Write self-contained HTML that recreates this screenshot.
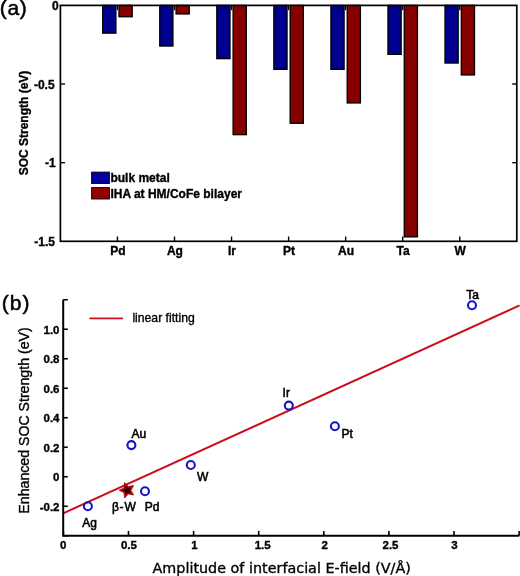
<!DOCTYPE html><html><head><meta charset="utf-8"><title>SOC strength figure</title><style>html,body{margin:0;padding:0;background:#fff;}svg{display:block}</style></head><body>
<svg width="520" height="576" viewBox="0 0 520 576">
<defs><filter id="soft" x="0" y="0" width="1" height="1"><feGaussianBlur stdDeviation="0.35"/></filter></defs>
<rect width="520" height="576" fill="#fff"/>
<g filter="url(#soft)">
<text x="-0.2" y="15.3" font-family="Liberation Sans, Arial, sans-serif" font-size="21" letter-spacing="0.6" stroke="#000" stroke-width="0.5">(a)</text>
<rect x="102.70" y="5.40" width="13.20" height="27.75" fill="#00008f" stroke="#000" stroke-width="1.3"/>
<rect x="119.00" y="5.40" width="13.20" height="11.35" fill="#860000" stroke="#000" stroke-width="1.3"/>
<rect x="159.75" y="5.40" width="13.20" height="40.65" fill="#00008f" stroke="#000" stroke-width="1.3"/>
<rect x="176.05" y="5.40" width="13.20" height="8.55" fill="#860000" stroke="#000" stroke-width="1.3"/>
<rect x="216.80" y="5.40" width="13.20" height="53.25" fill="#00008f" stroke="#000" stroke-width="1.3"/>
<rect x="233.10" y="5.40" width="13.20" height="129.25" fill="#860000" stroke="#000" stroke-width="1.3"/>
<rect x="273.85" y="5.40" width="13.20" height="63.95" fill="#00008f" stroke="#000" stroke-width="1.3"/>
<rect x="290.15" y="5.40" width="13.20" height="117.85" fill="#860000" stroke="#000" stroke-width="1.3"/>
<rect x="330.90" y="5.40" width="13.20" height="63.95" fill="#00008f" stroke="#000" stroke-width="1.3"/>
<rect x="347.20" y="5.40" width="13.20" height="97.55" fill="#860000" stroke="#000" stroke-width="1.3"/>
<rect x="387.95" y="5.40" width="13.20" height="48.95" fill="#00008f" stroke="#000" stroke-width="1.3"/>
<rect x="404.25" y="5.40" width="13.20" height="231.45" fill="#860000" stroke="#000" stroke-width="1.3"/>
<rect x="445.00" y="5.40" width="13.20" height="57.65" fill="#00008f" stroke="#000" stroke-width="1.3"/>
<rect x="461.30" y="5.40" width="13.20" height="69.55" fill="#860000" stroke="#000" stroke-width="1.3"/>
<rect x="60.40" y="5.40" width="456.40" height="235.90" fill="none" stroke="#000" stroke-width="1.7"/>
<g stroke="#000" stroke-width="1.4">
<line x1="60.40" y1="84.03" x2="65.00" y2="84.03"/>
<line x1="516.80" y1="84.03" x2="512.20" y2="84.03"/>
<line x1="60.40" y1="162.67" x2="65.00" y2="162.67"/>
<line x1="516.80" y1="162.67" x2="512.20" y2="162.67"/>
<line x1="117.45" y1="241.30" x2="117.45" y2="236.50"/>
<line x1="117.45" y1="5.40" x2="117.45" y2="10.20"/>
<line x1="174.50" y1="241.30" x2="174.50" y2="236.50"/>
<line x1="174.50" y1="5.40" x2="174.50" y2="10.20"/>
<line x1="231.55" y1="241.30" x2="231.55" y2="236.50"/>
<line x1="231.55" y1="5.40" x2="231.55" y2="10.20"/>
<line x1="288.60" y1="241.30" x2="288.60" y2="236.50"/>
<line x1="288.60" y1="5.40" x2="288.60" y2="10.20"/>
<line x1="345.65" y1="241.30" x2="345.65" y2="236.50"/>
<line x1="345.65" y1="5.40" x2="345.65" y2="10.20"/>
<line x1="402.70" y1="241.30" x2="402.70" y2="236.50"/>
<line x1="402.70" y1="5.40" x2="402.70" y2="10.20"/>
<line x1="459.75" y1="241.30" x2="459.75" y2="236.50"/>
<line x1="459.75" y1="5.40" x2="459.75" y2="10.20"/>
</g>
<g font-family="Liberation Sans, Arial, sans-serif" font-weight="bold" font-size="12" fill="#000" stroke="#000" stroke-width="0.35">
<text x="58.6" y="10.40" text-anchor="end">0</text>
<text x="54.60" y="88.63" text-anchor="end">-0.5</text>
<text x="55.60" y="167.27" text-anchor="end">-1</text>
<text x="55.00" y="245.90" text-anchor="end">-1.5</text>
<text x="117.85" y="254.6" text-anchor="middle">Pd</text>
<text x="174.90" y="254.6" text-anchor="middle">Ag</text>
<text x="231.95" y="254.6" text-anchor="middle">Ir</text>
<text x="289.00" y="254.6" text-anchor="middle">Pt</text>
<text x="346.05" y="254.6" text-anchor="middle">Au</text>
<text x="403.10" y="254.6" text-anchor="middle">Ta</text>
<text x="460.15" y="254.6" text-anchor="middle">W</text>
<text transform="translate(28.1,123.0) rotate(-90)" text-anchor="middle">SOC Strength (eV)</text>
<rect x="91.6" y="172.1" width="17.8" height="11.4" fill="#00009e" stroke="#000" stroke-width="0.9"/>
<rect x="91.6" y="187.6" width="17.8" height="11.4" fill="#920000" stroke="#000" stroke-width="0.9"/>
<text x="110.4" y="182">bulk metal</text>
<text x="110.4" y="197.8">IHA at HM/CoFe bilayer</text>
</g>
<text x="1.8" y="309.8" font-family="Liberation Sans, Arial, sans-serif" font-size="21" letter-spacing="1" stroke="#000" stroke-width="0.5">(b)</text>
<line x1="63.20" y1="513.3" x2="519.6" y2="305.4" stroke="#cc101e" stroke-width="2"/>
<line x1="89.4" y1="318.3" x2="123.1" y2="318.3" stroke="#cc101e" stroke-width="1.8"/>
<text x="132.4" y="322.3" font-family="Liberation Sans, Arial, sans-serif" font-size="12.2" stroke="#000" stroke-width="0.35">linear fitting</text>
<polyline points="63.20,299.75 63.20,535.70 519.30,535.70" fill="none" stroke="#000" stroke-width="2"/>
<g stroke="#000" stroke-width="1.6">
<line x1="63.20" y1="299.75" x2="67.80" y2="299.75"/>
<line x1="63.20" y1="329.25" x2="67.80" y2="329.25"/>
<line x1="63.20" y1="358.75" x2="67.80" y2="358.75"/>
<line x1="63.20" y1="388.25" x2="67.80" y2="388.25"/>
<line x1="63.20" y1="417.75" x2="67.80" y2="417.75"/>
<line x1="63.20" y1="447.25" x2="67.80" y2="447.25"/>
<line x1="63.20" y1="476.75" x2="67.80" y2="476.75"/>
<line x1="63.20" y1="506.25" x2="67.80" y2="506.25"/>
<line x1="63.20" y1="535.75" x2="67.80" y2="535.75"/>
<line x1="63.40" y1="535.70" x2="63.40" y2="530.90"/>
<line x1="128.50" y1="535.70" x2="128.50" y2="530.90"/>
<line x1="193.60" y1="535.70" x2="193.60" y2="530.90"/>
<line x1="258.70" y1="535.70" x2="258.70" y2="530.90"/>
<line x1="323.80" y1="535.70" x2="323.80" y2="530.90"/>
<line x1="388.90" y1="535.70" x2="388.90" y2="530.90"/>
<line x1="454.00" y1="535.70" x2="454.00" y2="530.90"/>
<line x1="519.10" y1="535.70" x2="519.10" y2="530.90"/>
</g>
<g font-family="Liberation Sans, Arial, sans-serif" font-weight="bold" font-size="11.5" fill="#000" stroke="#000" stroke-width="0.35">
<text x="59.5" y="333.65" text-anchor="end">1.0</text>
<text x="59.5" y="363.15" text-anchor="end">0.8</text>
<text x="59.5" y="392.65" text-anchor="end">0.6</text>
<text x="59.5" y="422.15" text-anchor="end">0.4</text>
<text x="59.5" y="451.65" text-anchor="end">0.2</text>
<text x="59.5" y="481.15" text-anchor="end">0</text>
<text x="59.5" y="510.65" text-anchor="end">-0.2</text>
<text x="63.10" y="549.4" text-anchor="middle">0</text>
<text x="128.90" y="549.4" text-anchor="middle">0.5</text>
<text x="194.50" y="549.4" text-anchor="middle">1</text>
<text x="262.70" y="549.4" text-anchor="middle">1.5</text>
<text x="324.70" y="549.4" text-anchor="middle">2</text>
<text x="390.50" y="549.4" text-anchor="middle">2.5</text>
<text x="454.40" y="549.4" text-anchor="middle">3</text>
</g>
<text transform="translate(29.2,420.5) rotate(-90)" text-anchor="middle" font-family="Liberation Sans, Arial, sans-serif" font-size="14.15" stroke="#000" stroke-width="0.35">Enhanced SOC Strength (eV)</text>
<text x="281.7" y="572.9" text-anchor="middle" font-family="DejaVu Sans, Verdana, sans-serif" font-size="14.35" stroke="#000" stroke-width="0.35">Amplitude of interfacial E-field (V/Å)</text>
<g fill="none" stroke="#1818c8" stroke-width="2.1">
<circle cx="87.90" cy="506.20" r="4.0"/>
<circle cx="145.00" cy="491.30" r="4.0"/>
<circle cx="131.40" cy="445.10" r="4.0"/>
<circle cx="190.80" cy="465.00" r="4.0"/>
<circle cx="288.80" cy="405.60" r="4.0"/>
<circle cx="334.90" cy="426.30" r="4.0"/>
<circle cx="472.00" cy="305.20" r="4.0"/>
</g>
<polygon points="119.10,490.30 123.94,488.01 124.63,482.69 128.31,486.59 133.57,485.60 131.00,490.30 133.57,495.00 128.31,494.01 124.63,497.91 123.94,492.59" fill="#c40000" stroke="#a00000" stroke-width="0.8" stroke-linejoin="round"/>
<polygon points="122.50,490.30 125.24,488.95 125.68,485.93 127.81,488.11 130.82,487.60 129.40,490.30 130.82,493.00 127.81,492.49 125.68,494.67 125.24,491.65" fill="#280000"/>
<g font-family="Liberation Sans, Arial, sans-serif" font-size="12" fill="#000" stroke="#000" stroke-width="0.55">
<text x="82.20" y="527.10">Ag</text>
<text x="144.80" y="510.90">Pd</text>
<text x="111.90" y="511.40" letter-spacing="0.8">β-W</text>
<text x="131.60" y="438.40">Au</text>
<text x="196.90" y="481.10">W</text>
<text x="282.60" y="396.90">Ir</text>
<text x="341.60" y="438.40">Pt</text>
<text x="466.20" y="299.00">Ta</text>
</g>
</g></svg></body></html>
